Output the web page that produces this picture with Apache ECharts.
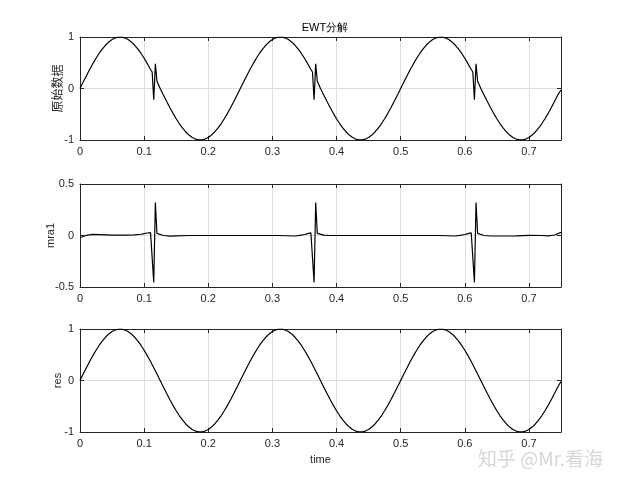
<!DOCTYPE html>
<html>
<head>
<meta charset="utf-8">
<script src="https://cdn.jsdelivr.net/npm/echarts@6/dist/echarts.min.js"></script>
<style>
html,body{margin:0;padding:0;background:#fff;}
#c{width:620px;height:486px;}
</style>
</head>
<body>
<div id="c"></div>
<script>
// ---- data ----
const titleText = 'EWT分解';
const yNames = ['原始数据', 'mra1', 'res'];
const xName = 'time';
const watermark = '知乎 @Mr.看海';

// sample times for the smooth signal (0 .. 0.75 step 0.005)
const sampleTime = Array.from({length: 151}, (_, i) => +(i * 0.005).toFixed(4));

// res: the smooth residual
const resValues = [
  0, 0.125, 0.249, 0.368, 0.482, 0.588, 0.685, 0.771, 0.844, 0.905, 0.951, 0.982, 0.998, 0.998, 0.982, 0.951, 0.905, 0.844, 0.771, 0.685, 0.588, 0.482, 0.368, 0.249, 0.125,
  0, -0.125, -0.249, -0.368, -0.482, -0.588, -0.685, -0.771, -0.844, -0.905, -0.951, -0.982, -0.998, -0.998, -0.982, -0.951, -0.905, -0.844, -0.771, -0.685, -0.588, -0.482, -0.368, -0.249, -0.125,
  0, 0.125, 0.249, 0.368, 0.482, 0.588, 0.685, 0.771, 0.844, 0.905, 0.951, 0.982, 0.998, 0.998, 0.982, 0.951, 0.905, 0.844, 0.771, 0.685, 0.588, 0.482, 0.368, 0.249, 0.125,
  0, -0.125, -0.249, -0.368, -0.482, -0.588, -0.685, -0.771, -0.844, -0.905, -0.951, -0.982, -0.998, -0.998, -0.982, -0.951, -0.905, -0.844, -0.771, -0.685, -0.588, -0.482, -0.368, -0.249, -0.125,
  0, 0.125, 0.249, 0.368, 0.482, 0.588, 0.685, 0.771, 0.844, 0.905, 0.951, 0.982, 0.998, 0.998, 0.982, 0.951, 0.905, 0.844, 0.771, 0.685, 0.588, 0.482, 0.368, 0.249, 0.125,
  0, -0.125, -0.249, -0.368, -0.482, -0.588, -0.685, -0.771, -0.844, -0.905, -0.951, -0.982, -0.998, -0.998, -0.982, -0.951, -0.905, -0.844, -0.771, -0.685, -0.588, -0.482, -0.368, -0.249, -0.125,
  -0.02
];

// original signal on the same sample grid
const origValues = [
  0, 0.125, 0.249, 0.368, 0.482, 0.588, 0.685, 0.771, 0.844, 0.905, 0.951, 0.982, 0.998, 0.998, 0.982, 0.951, 0.905, 0.844, 0.771, 0.685, 0.588, 0.482, 0.368, -0.22, 0.14,
  0, -0.125, -0.249, -0.368, -0.482, -0.588, -0.685, -0.771, -0.844, -0.905, -0.951, -0.982, -0.998, -0.998, -0.982, -0.951, -0.905, -0.844, -0.771, -0.685, -0.588, -0.482, -0.368, -0.249, -0.125,
  0, 0.125, 0.249, 0.368, 0.482, 0.588, 0.685, 0.771, 0.844, 0.905, 0.951, 0.982, 0.998, 0.998, 0.982, 0.951, 0.905, 0.844, 0.771, 0.685, 0.588, 0.482, 0.368, -0.22, 0.14,
  0, -0.125, -0.249, -0.368, -0.482, -0.588, -0.685, -0.771, -0.844, -0.905, -0.951, -0.982, -0.998, -0.998, -0.982, -0.951, -0.905, -0.844, -0.771, -0.685, -0.588, -0.482, -0.368, -0.249, -0.125,
  0, 0.125, 0.249, 0.368, 0.482, 0.588, 0.685, 0.771, 0.844, 0.905, 0.951, 0.982, 0.998, 0.998, 0.982, 0.951, 0.905, 0.844, 0.771, 0.685, 0.588, 0.482, 0.368, -0.22, 0.14,
  0, -0.125, -0.249, -0.368, -0.482, -0.588, -0.685, -0.771, -0.844, -0.905, -0.951, -0.982, -0.998, -0.998, -0.982, -0.951, -0.905, -0.844, -0.771, -0.685, -0.588, -0.482, -0.368, -0.249, -0.125,
  -0.03
];
// extra spike samples of the original signal
const origSpikeTime = [0.1125, 0.1175, 0.3625, 0.3675, 0.6125, 0.6175];
const origSpikeValues = [0.32, 0.48, 0.32, 0.48, 0.32, 0.48];

// mra1: mostly flat with spikes
const mraTime = [0, 0.005, 0.01, 0.02, 0.03, 0.05, 0.07, 0.085, 0.095, 0.1, 0.105, 0.11, 0.1125, 0.115, 0.1175, 0.12, 0.1225, 0.13, 0.14, 0.15, 0.17,
  0.31, 0.335, 0.345, 0.35, 0.355, 0.36, 0.3625, 0.365, 0.3675, 0.37, 0.3725, 0.38, 0.39,
  0.56, 0.585, 0.595, 0.6, 0.605, 0.61, 0.6125, 0.615, 0.6175, 0.62, 0.6225, 0.63, 0.64, 0.66, 0.68, 0.7, 0.72, 0.73, 0.74, 0.75];
const mraValues = [-0.022, -0.01, 0.002, 0.01, 0.008, 0.004, 0.004, 0.006, 0.012, 0.018, 0.024, 0.028, 0.03, -0.455, 0.32, 0.02, 0.01, 0.0, -0.006, -0.003, 0,
  0, -0.005, 0.004, 0.01, 0.018, 0.026, 0.03, -0.455, 0.32, 0.02, 0.012, 0.003, 0,
  0, -0.005, 0.004, 0.01, 0.018, 0.026, 0.03, -0.455, 0.32, 0.02, 0.01, 0.0, -0.005, -0.005, -0.003, 0.002, 0.0, -0.004, 0.005, 0.03];

// axis ticks
const xMin = 0, xMax = 0.75, xStep = 0.1;
const yRanges = [[-1, 1, 1], [-0.5, 0.5, 0.5], [-1, 1, 1]];

// ---- build ----
const resData = sampleTime.map((t, i) => [t, resValues[i]]);
const origData = sampleTime.map((t, i) => [t, origValues[i]])
  .concat(origSpikeTime.map((t, i) => [t, origSpikeValues[i]]))
  .sort((a, b) => a[0] - b[0]);
const mraData = mraTime.map((t, i) => [t, mraValues[i]]);
const seriesData = [origData, mraData, resData];

const FONT = '"Liberation Sans", Arial, sans-serif';
const gridTops = [37, 184, 329];
const GH = 103;
const nameGaps = [17, 24, 17];

const grids = gridTops.map(t => ({left: 80, width: 481, top: t, height: GH, show: false}));
const xAxes = [], yAxes = [], series = [];
for (let g = 0; g < 3; g++) {
  xAxes.push({
    gridIndex: g, type: 'value', min: xMin, max: xMax, interval: xStep, position: 'bottom',
    axisLine: {show: true, onZero: false, lineStyle: {color: '#262626', width: 1}},
    axisTick: {show: true, inside: true, length: 4, lineStyle: {color: '#262626'}},
    splitLine: {show: true, lineStyle: {color: '#dedede', width: 1}},
    axisLabel: {color: '#262626', fontSize: 11, fontFamily: FONT, margin: 6, showMaxLabel: false,
      formatter: v => String(+v.toFixed(2))},
    name: g === 2 ? xName : '', nameLocation: 'middle', nameGap: 22, nameMoveOverlap: false,
    nameTextStyle: {color: '#262626', fontSize: 11, fontFamily: FONT}
  });
  const r = yRanges[g];
  yAxes.push({
    gridIndex: g, type: 'value', min: r[0], max: r[1], interval: r[2], position: 'left',
    axisLine: {show: true, onZero: false, lineStyle: {color: '#262626', width: 1}},
    axisTick: {show: true, inside: true, length: 4, lineStyle: {color: '#262626'}},
    splitLine: {show: true, lineStyle: {color: '#dedede', width: 1}},
    axisLabel: {color: '#262626', fontSize: 11, fontFamily: FONT, margin: 6},
    name: yNames[g], nameLocation: 'middle', nameGap: nameGaps[g], nameMoveOverlap: false,
    nameTextStyle: {color: '#262626', fontSize: g === 0 ? 12 : 11,
      fontFamily: g === 0 ? '"Noto Sans CJK SC", sans-serif' : FONT}
  });
}
for (let g = 0; g < 3; g++) {
  xAxes.push({
    gridIndex: g, type: 'value', min: xMin, max: xMax, interval: xStep, position: 'top',
    axisLine: {show: true, onZero: false, lineStyle: {color: '#262626', width: 1}},
    axisTick: {show: true, inside: true, length: 4, lineStyle: {color: '#262626'}},
    splitLine: {show: false}, axisLabel: {show: false}
  });
  const r = yRanges[g];
  yAxes.push({
    gridIndex: g, type: 'value', min: r[0], max: r[1], interval: r[2], position: 'right',
    axisLine: {show: true, onZero: false, lineStyle: {color: '#262626', width: 1}},
    axisTick: {show: true, inside: true, length: 4, lineStyle: {color: '#262626'}},
    splitLine: {show: false}, axisLabel: {show: false}
  });
}
for (let g = 0; g < 3; g++) {
  series.push({
    type: 'line', xAxisIndex: g, yAxisIndex: g, data: seriesData[g],
    showSymbol: false, symbol: 'none', lineStyle: {color: '#000', width: 1.2},
    silent: true
  });
}

const chart = echarts.init(document.getElementById('c'), null, {renderer: 'canvas'});
chart.setOption({
  animation: false,
  backgroundColor: '#fff',
  title: {text: titleText, left: 320, top: 17, textAlign: 'center',
    textStyle: {fontSize: 11, fontWeight: 'normal', color: '#000', fontFamily: FONT}},
  grid: grids,
  xAxis: xAxes,
  yAxis: yAxes,
  series: series,
  graphic: [{
    type: 'text', left: 478, top: 449,
    style: {text: watermark, fill: '#d6d6d6', fontSize: 19, fontFamily: '"Noto Sans CJK SC", sans-serif'}
  }]
});
</script>
</body>
</html>
